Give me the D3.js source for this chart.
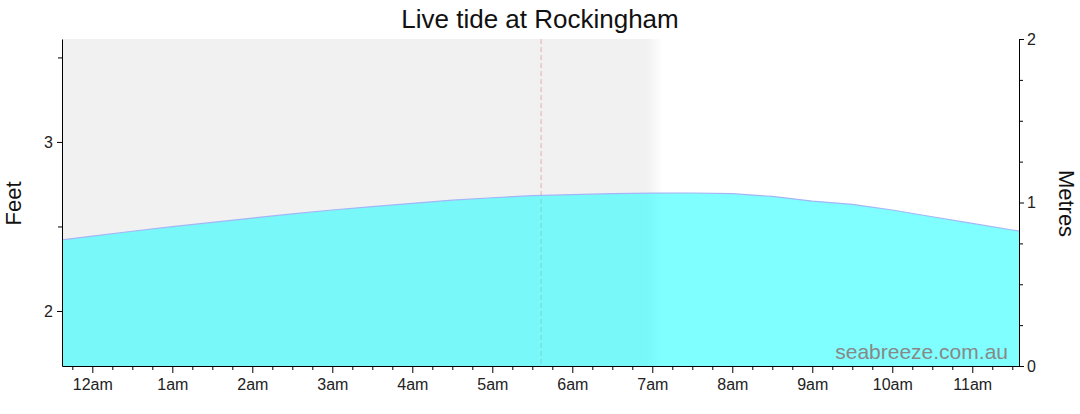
<!DOCTYPE html>
<html>
<head>
<meta charset="utf-8">
<script src="https://cdn.jsdelivr.net/npm/d3@7"></script>
<style>
  body { margin: 0; background: #fff; }
  svg { display: block; font-family: "Liberation Sans", Arial, sans-serif; }
</style>
</head>
<body>
<div id="chart"></div>
<script>
// tide heights (metres), every 30 min starting 11:30pm the night before
const tideStart = -0.5;          // hours relative to midnight
const tideStep = 0.5;
const tideMetres = [0.765, 0.794, 0.824, 0.852, 0.878, 0.905, 0.930, 0.954, 0.975, 0.995,
                    1.014, 1.029, 1.042, 1.048, 1.054, 1.057, 1.058, 1.054, 1.037, 1.009,
                    0.989, 0.954, 0.913, 0.872, 0.832, 0.795];

const hourLabels = ['12am', '1am', '2am', '3am', '4am', '5am', '6am', '7am', '8am', '9am', '10am', '11am'];
const feetTicks = [2, 3];
const metreTicks = [0, 1, 2];

const nowHour = 5.61;       // dashed "now" line
const sunriseStart = 6.93;  // night shading fades out
const sunriseEnd = 7.13;

const width = 1080;
const height = 414;
const margin = { top: 39, right: 61, bottom: 48, left: 62 };

const x = d3.scaleLinear()
    .domain([-0.379, 11.584])
    .range([margin.left, width - margin.right]);

const yM = d3.scaleLinear()
    .domain([0, 2])
    .range([height - margin.bottom, margin.top]);

const yF = d3.scaleLinear()
    .domain([1.6746, 3.609])
    .range([height - margin.bottom, margin.top]);

const data = tideMetres.map((v, i) => ({ h: tideStart + i * tideStep, m: v }));

const svg = d3.select('#chart').append('svg')
    .attr('width', width)
    .attr('height', height);

const defs = svg.append('defs');
defs.append('clipPath').attr('id', 'plot-clip')
    .append('rect')
    .attr('x', margin.left).attr('y', margin.top)
    .attr('width', x.range()[1] - margin.left)
    .attr('height', yM.range()[0] - margin.top);

const grad = defs.append('linearGradient')
    .attr('id', 'night')
    .attr('gradientUnits', 'userSpaceOnUse')
    .attr('x1', x(sunriseStart)).attr('x2', x(sunriseEnd))
    .attr('y1', 0).attr('y2', 0);
grad.append('stop').attr('offset', 0).attr('stop-color', '#f1f1f1');
grad.append('stop').attr('offset', 1).attr('stop-color', '#ffffff');

const plot = svg.append('g').attr('clip-path', 'url(#plot-clip)');

plot.append('rect')
    .attr('x', margin.left).attr('y', margin.top)
    .attr('width', x.range()[1] - margin.left)
    .attr('height', yM.range()[0] - margin.top)
    .attr('fill', 'url(#night)');

// now line sits under the water fill
plot.append('line')
    .attr('x1', x(nowHour)).attr('x2', x(nowHour))
    .attr('y1', margin.top).attr('y2', yM(0))
    .attr('stroke', '#eeaaaa')
    .attr('stroke-width', 1)
    .attr('stroke-dasharray', '5,3');

const area = d3.area()
    .x(d => x(d.h))
    .y0(yM(0))
    .y1(d => yM(d.m));

plot.append('path')
    .datum(data)
    .attr('d', area)
    .attr('fill', 'rgba(0,255,255,0.5)');

plot.append('path')
    .datum(data)
    .attr('d', d3.line().x(d => x(d.h)).y(d => yM(d.m)))
    .attr('fill', 'none')
    .attr('stroke', '#a3b6f7')
    .attr('stroke-width', 1.2);

// watermark
svg.append('text')
    .attr('x', x.range()[1] - 11)
    .attr('y', yM(0) - 7)
    .attr('text-anchor', 'end')
    .attr('fill', '#888')
    .style('font-size', '21px')
    .text('seabreeze.com.au');

// axes
function styleAxis(g) {
    g.select('.domain').attr('stroke', '#000');
    g.selectAll('.tick line').attr('stroke', '#000');
    g.selectAll('.tick text').attr('fill', '#222').style('font-size', '16px');
}

const hourTicks = d3.range(0, 12);
const quarterTicks = d3.range(-0.25, 11.6, 0.25).filter(t => Math.abs(t - Math.round(t)) > 0.01);

svg.append('g')
    .attr('transform', `translate(0,${yM(0)})`)
    .call(d3.axisBottom(x).tickValues(quarterTicks).tickSize(4).tickFormat('').tickSizeOuter(0))
    .call(g => g.select('.domain').remove())
    .call(styleAxis);

svg.append('g')
    .attr('transform', `translate(0,${yM(0)})`)
    .call(d3.axisBottom(x).tickValues(hourTicks).tickSize(7).tickPadding(6).tickSizeOuter(0)
        .tickFormat(d => hourLabels[d]))
    .call(styleAxis);

svg.append('g')
    .attr('transform', `translate(${margin.left},0)`)
    .call(d3.axisLeft(yF).tickValues([2.5, 3.5]).tickSize(4).tickFormat('').tickSizeOuter(0))
    .call(g => g.select('.domain').remove())
    .call(styleAxis);

svg.append('g')
    .attr('transform', `translate(${margin.left},0)`)
    .call(d3.axisLeft(yF).tickValues(feetTicks).tickSize(5).tickPadding(4).tickSizeOuter(0)
        .tickFormat(d3.format('d')))
    .call(styleAxis);

svg.append('g')
    .attr('transform', `translate(${x.range()[1]},0)`)
    .call(d3.axisRight(yM).tickValues([0.25, 0.5, 0.75, 1.25, 1.5, 1.75]).tickSize(4).tickFormat('').tickSizeOuter(0))
    .call(g => g.select('.domain').remove())
    .call(styleAxis);

svg.append('g')
    .attr('transform', `translate(${x.range()[1]},0)`)
    .call(d3.axisRight(yM).tickValues(metreTicks).tickSize(5).tickPadding(3).tickSizeOuter(0)
        .tickFormat(d3.format('d')))
    .call(styleAxis);

// titles
svg.append('text')
    .attr('x', width / 2)
    .attr('y', 28)
    .attr('text-anchor', 'middle')
    .attr('fill', '#111')
    .style('font-size', '26px')
    .text('Live tide at Rockingham');

svg.append('text')
    .attr('transform', `translate(21,${(margin.top + yM(0)) / 2 + 1}) rotate(-90)`)
    .attr('text-anchor', 'middle')
    .attr('fill', '#111')
    .style('font-size', '22px')
    .text('Feet');

svg.append('text')
    .attr('transform', `translate(1059,${(margin.top + yM(0)) / 2 + 1}) rotate(90)`)
    .attr('text-anchor', 'middle')
    .attr('fill', '#111')
    .style('font-size', '22px')
    .text('Metres');
</script>
</body>
</html>
